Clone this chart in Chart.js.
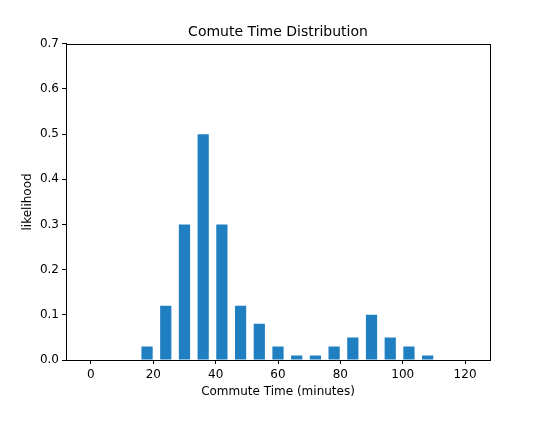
<!DOCTYPE html>
<html>
<head>
<meta charset="utf-8">
<script src="https://cdn.jsdelivr.net/npm/chart.js@4.4.1/dist/chart.umd.min.js"></script>
<style>
  html, body { margin: 0; padding: 0; background: #fff; }
</style>
</head>
<body>
<canvas id="commuteChart" width="547" height="423"></canvas>
<script>
// commute times in minutes, one bar every 6 minutes
const minutes = [0, 6, 12, 18, 24, 30, 36, 42, 48, 54, 60, 66, 72, 78, 84, 90, 96, 102, 108, 114, 120]
const likelihood = [0, 0, 0, 0.03, 0.12, 0.3, 0.5, 0.3, 0.12, 0.08, 0.03, 0.01, 0.01, 0.03, 0.05, 0.1, 0.05, 0.03, 0.01, 0, 0]
const xTicks = [0, 20, 40, 60, 80, 100, 120]
const yTicks = [0, 0.1, 0.2, 0.3, 0.4, 0.5, 0.6, 0.7]

const points = minutes.map((m, i) => ({ x: m, y: likelihood[i] }))

Chart.defaults.font.family = "'DejaVu Sans', sans-serif"
Chart.defaults.color = '#000'

// matplotlib style box round the plot area
const frameBox = {
    id: 'frameBox',
    afterDraw(chart) {
        const { ctx, chartArea: { left, top, right, bottom } } = chart
        ctx.save()
        ctx.strokeStyle = '#000'
        ctx.lineWidth = 1
        ctx.strokeRect(Math.round(left) + 0.5, Math.round(top) + 0.5, Math.round(right - left), Math.round(bottom - top))
        ctx.restore()
    }
}

const config = {
    type: 'bar',
    data: {
        datasets: [{
            label: 'likelihood',
            data: points,
            backgroundColor: '#1f7fc1',
            borderWidth: 0,
            barPercentage: 0.6,
            categoryPercentage: 1.0
        }]
    },
    options: {
        responsive: false,
        animation: false,
        devicePixelRatio: 1,
        layout: { padding: { left: 0, right: 57, top: 0, bottom: 0 } },
        plugins: {
            legend: { display: false },
            tooltip: { enabled: false },
            title: {
                display: true,
                fullSize: false,
                text: 'Comute Time Distribution',
                font: { size: 14, weight: 'normal' },
                padding: { top: 24, bottom: 3 }
            }
        },
        scales: {
            x: {
                type: 'linear',
                min: -8,
                max: 128,
                offset: false,
                afterBuildTicks(scale) {
                    scale.ticks = xTicks.map(v => ({ value: v }))
                },
                afterFit(scale) { scale.height = 63 },
                grid: { drawOnChartArea: false, offset: false, color: '#000', tickLength: 4 },
                border: { display: true, color: '#000' },
                ticks: { font: { size: 12 }, padding: 4, maxRotation: 0 },
                title: {
                    display: true,
                    text: 'Commute Time (minutes)',
                    font: { size: 12 },
                    padding: { top: 2, bottom: 24 }
                }
            },
            y: {
                min: 0,
                max: 0.7,
                afterBuildTicks(scale) {
                    scale.ticks = yTicks.map(v => ({ value: v }))
                },
                afterFit(scale) { scale.width = 66 },
                grid: { drawOnChartArea: false, color: '#000', tickLength: 4 },
                border: { display: true, color: '#000' },
                ticks: {
                    font: { size: 12 },
                    padding: 3,
                    callback: v => v.toFixed(1)
                },
                title: {
                    display: true,
                    text: 'likelihood',
                    font: { size: 12 },
                    padding: { top: 21, bottom: 0 }
                }
            }
        }
    },
    plugins: [frameBox]
}

const commuteChart = new Chart(document.getElementById('commuteChart'), config)
</script>
</body>
</html>
